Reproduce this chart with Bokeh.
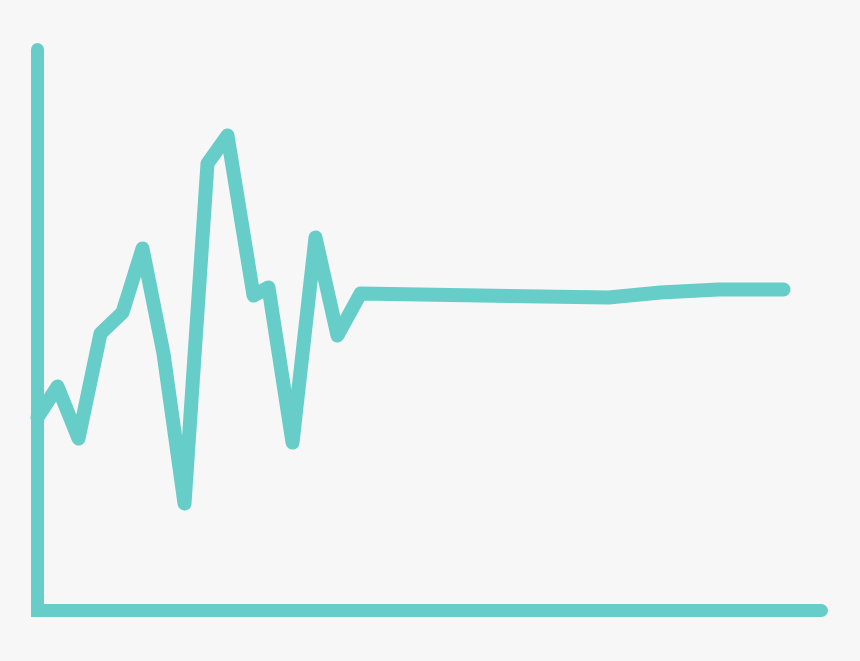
from bokeh.plotting import figure
from bokeh.models import Range1d
from bokeh.embed import file_html
from bokeh.resources import INLINE

# Series values (x: time offset, y: amplitude above baseline)
x_vals = [0, 20, 41, 63, 85, 105, 126, 147, 170, 190, 216, 231, 255, 278, 300, 323, 571, 623, 681, 746]
y_vals = [193, 224, 172, 277, 298, 362, 257, 107, 447, 475, 315, 323, 168, 373, 275, 317, 313, 318, 321, 321]

# Axis frame extents
axis_x = [0, 0, 784]
axis_y = [561, 0, 0]

COLOR = "#66CDC8"
BG = "#F7F7F7"

p = figure(width=844, height=645, output_backend="svg", toolbar_location=None,
           x_range=Range1d(-37, 807), y_range=Range1d(-35, 610),
           min_border=0, background_fill_color=BG, border_fill_color=BG)
p.axis.visible = False
p.grid.visible = False
p.outline_line_color = None

p.line(axis_x, axis_y, line_color=COLOR, line_width=13, line_cap="round", line_join="miter")
p.line(x_vals, y_vals, line_color=COLOR, line_width=14, line_cap="round", line_join="round")

html = file_html(p, INLINE)
html = html.replace("<body>", '<body style="background:#F7F7F7;">')
open("out.html", "w").write(html)
